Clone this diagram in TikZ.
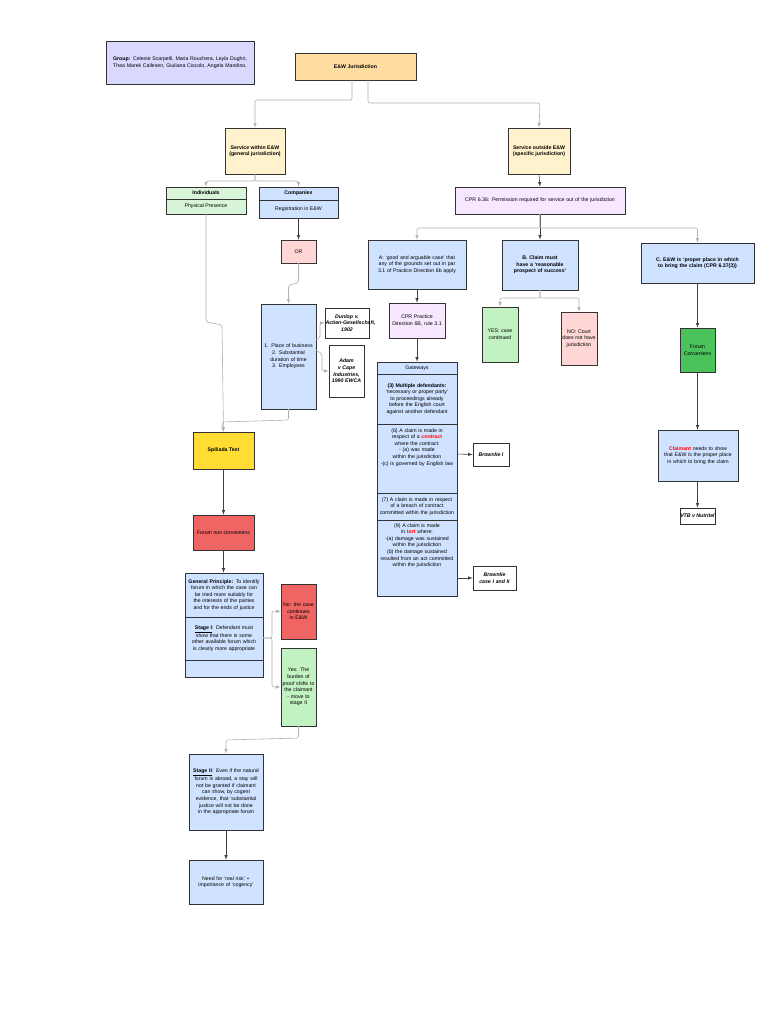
\documentclass[tikz,border=0pt]{standalone}
\usepackage{fontspec}
\setmainfont{Liberation Sans}
\hyphenpenalty=10000
\exhyphenpenalty=10000
\begin{document}
\begin{tikzpicture}[x=1pt,y=-1pt,
 bx/.style={draw=black!80,line width=0.7pt,align=center,inner sep=1pt,font=\fontsize{5.2}{6.6}\selectfont},
 gl/.style={draw=black!30,line width=0.6pt,rounded corners=2pt,-latex},
 dl/.style={draw=black!75,line width=0.6pt,-latex},
 ]
\definecolor{lav}{HTML}{D9D9FF}\definecolor{org}{HTML}{FFDCA0}\definecolor{cream}{HTML}{FFF2CC}
\definecolor{lgreen}{HTML}{D9F5D9}\definecolor{lblue}{HTML}{CFE2FF}\definecolor{pinkl}{HTML}{F8E8FF}
\definecolor{pinkr}{HTML}{FFD6D6}\definecolor{mgreen}{HTML}{C2F2C2}\definecolor{fgreen}{HTML}{4CC25A}
\definecolor{yel}{HTML}{FFDD33}\definecolor{redb}{HTML}{F06464}
\useasboundingbox (0,0) rectangle (768,1024);
\fill[white] (0,0) rectangle (768,1024);
\newcommand\bxat[6]{\node[bx,fill=#2,minimum width=#5-#3,minimum height=#6-#4] (#1) at ({(#3+#5)/2},{(#4+#6)/2}) {};}
% boxes
\bxat{grp}{lav}{106}{41}{254}{84}\node[bx,draw=none,text width=136] at (grp) {\textbf{Group:} Celeste Scarpelli, Maria Rouchera, Leyla Dughri, Thea Marek Callesen, Giuliana Ciscolo, Angela Mandino,};
\bxat{ew}{org}{295}{53}{416}{80}\node[bx,draw=none] at (ew) {\textbf{E\&W Jurisdiction}};
\bxat{win}{cream}{225}{128}{285}{174}\node[bx,draw=none] at (win) {\textbf{Service within E\&W}\\\textbf{(general jurisdiction)}};
\bxat{out}{cream}{508}{128}{570}{174}\node[bx,draw=none] at (out) {\textbf{Service outside E\&W}\\\textbf{(specific jurisdiction)}};
\bxat{ind}{lgreen}{166}{187}{246}{214}\draw[black!80,line width=0.7pt] (166,199)--(246,199);
\node[bx,draw=none] at (206,193) {\textbf{Individuals}};\node[bx,draw=none] at (206,206.5) {Physical Presence};
\bxat{com}{lblue}{259}{187}{338}{218}\draw[black!80,line width=0.7pt] (259,200)--(338,200);
\node[bx,draw=none] at (298.5,193.5) {\textbf{Companies}};\node[bx,draw=none] at (298.5,209) {Registration in E\&W};
\bxat{cpr}{pinkl}{455}{187}{625}{214}\node[bx,draw=none,text width=165] at (cpr) {CPR 6.36: Permission required for service out of the jurisdiction};
\bxat{or}{pinkr}{281}{240}{316}{263}\node[bx,draw=none] at (or) {OR};
\bxat{A}{lblue}{368}{240}{466}{289}\node[bx,draw=none,text width=92] at (A) {A: `good and arguable case' that any of the grounds set out in par 3.1 of Practice Direction 6b apply};
\bxat{B}{lblue}{502}{240}{578}{290}\node[bx,draw=none,text width=64] at (B) {\textbf{B. Claim must have a `reasonable prospect of success'}};
\bxat{C}{lblue}{641}{243}{754}{283}\node[bx,draw=none,text width=106] at (C) {\textbf{C. E\&W is `proper place in which to bring the claim (CPR 6.37(3))}};
\bxat{pl}{lblue}{261}{304}{316}{409}\node[bx,draw=none,text width=53] at (pl) {1. Place of business\\2. Substantial duration of time\\3. Employees};
\bxat{dun}{white}{325}{308}{369}{338}\node[bx,draw=none,text width=43] at (dun) {\textbf{\textit{Dunlop v. Actien-Gesellschaft, 1902}}};
\bxat{adam}{white}{329}{345}{364}{397}\node[bx,draw=none,text width=33] at (adam) {\textbf{\textit{Adam v Cape Industries, 1990 EWCA}}};
\bxat{pd}{pinkl}{389}{303}{445}{338}\node[bx,draw=none,text width=52] at (pd) {CPR Practice Direction 6B, rule 3.1};
\bxat{yes}{mgreen}{482}{307}{518}{362}\node[bx,draw=none,text width=34] at (yes) {YES: case continued};
\bxat{no}{pinkr}{561}{312}{597}{365}\node[bx,draw=none,text width=34] at (no) {NO: Court does not have jurisdiction};
\bxat{fc}{fgreen}{680}{328}{715}{372}\node[bx,draw=none] at (fc) {Forum\\Conveniens};
\bxat{gw}{lblue}{377}{362}{457}{596}
\foreach \yy in {374,424,493,520}{\draw[black!80,line width=0.7pt] (377,\yy)--(457,\yy);}
\node[bx,draw=none] at (417,368) {Gateways};
\node[bx,draw=none,text width=76] at (417,399) {\textbf{(3) Multiple defendants:} `necessary or proper party' to proceedings already before the English court against another defendant};
\node[bx,draw=none,text width=76,anchor=north] at (417,427) {(6) A claim is made in respect of a \textcolor{red}{\textbf{contract}} where the contract:\\- (a) was made within the jurisdiction\\-(c) is governed by English law};
\node[bx,draw=none,text width=76] at (417,506.5) {(7) A claim is made in respect of a breach of contract committed within the jurisdiction};
\node[bx,draw=none,text width=76,anchor=north] at (417,522) {(9) A claim is made in \textcolor{red}{\textbf{tort}} where:\\-(a) damage was sustained within the jurisdiction\\(b) the damage sustained resulted from an act committed within the jurisdiction};
\bxat{br1}{white}{473}{443}{509}{466}\node[bx,draw=none] at (br1) {\textbf{\textit{Brownlie I}}};
\bxat{br2}{white}{473}{566}{516}{590}\node[bx,draw=none,text width=42] at (br2) {\textbf{\textit{Brownlie case I and II}}};
\bxat{sp}{yel}{193}{432}{254}{469}\node[bx,draw=none] at (sp) {\textbf{Spiliada Test}};
\bxat{fnc}{redb}{193}{515}{254}{550}\node[bx,draw=none] at (fnc) {Forum non conveniens};
\bxat{gp}{lblue}{185}{573}{263}{677}\draw[black!80,line width=0.7pt] (185,617)--(263,617) (185,660)--(263,660);
\node[bx,draw=none,text width=76] at (224,595) {\textbf{General Principle:} To identify forum in which the case can be tried more suitably for the interests of the parties and for the ends of justice};
\node[bx,draw=none,text width=76] at (224,638.5) {\underline{\textbf{Stage I}}: Defendant must show that there is some other available forum which is clearly more appropriate};
\bxat{gno}{redb}{281}{584}{316}{639}\node[bx,draw=none,text width=34] at (gno) {No: the case continues in E\&W};
\bxat{gyes}{mgreen}{281}{648}{316}{726}\node[bx,draw=none,text width=34] at (gyes) {Yes: The burden of proof shifts to the claimant - move to stage II};
\bxat{cl}{lblue}{658}{430}{738}{481}\node[bx,draw=none,text width=76] at (cl) {\textcolor{red}{\textbf{Claimant}} needs to show that E\&W is the proper place in which to bring the claim};
\bxat{vtb}{white}{680}{508}{715}{524}\node[bx,draw=none] at (vtb) {\textbf{\textit{VTB v Nutritel}}};
\bxat{s2}{lblue}{189}{754}{263}{830}\node[bx,draw=none,text width=72] at (s2) {\underline{\textbf{Stage II}}: Even if the natural forum is abroad, a stay will not be granted if claimant can show, by cogent evidence, that `substantial justice will not be done in the appropriate forum};
\bxat{nd}{lblue}{189}{860}{263}{904}\node[bx,draw=none,text width=72] at (nd) {Need for `real risk' + importance of `cogency'};
% connectors
\draw[gl] (ew.south-|352,0) -- (352,100) -- (255,100) -- (win.north);
\draw[gl] (ew.south-|368,0) -- (368,103) -- (540,103) -- (out.north);
\draw[gl] (win.south) -- (255,181) -- (206,181) -- (ind.north);
\draw[gl] (win.south) -- (255,181) -- (298.5,181) -- (com.north);
\draw[dl] (com.south) -- (or.north);
\draw[gl] (298.5,263) -- (298.5,283) -- (288.5,285) -- (pl.north);
\draw[gl] (206,214) -- (206,322) -- (222,325) -- (sp.north);
\draw[gl] (288.5,409) -- (288.5,420) -- (222,422) -- (sp.north);
\draw[gl] (316,340) -- (320,338) -- (320,323) -- (dun.west);
\draw[gl] (316,350) -- (322,354) -- (322,371) -- (adam.west);
\draw[dl] (out.south) -- (cpr.north);
\draw[gl] (540,214) -- (540,228) -- (417,228) -- (A.north);
\draw[dl] (540,214) -- (B.north);
\draw[gl] (540,214) -- (540,228) -- (697.5,228) -- (C.north);
\draw[dl] (A.south-|417,0) -- (pd.north);
\draw[dl] (pd.south) -- (gw.north);
\draw[gl] (540,290) -- (540,298) -- (500,298) -- (yes.north);
\draw[gl] (540,290) -- (540,298) -- (579,298) -- (no.north);
\draw[dl] (C.south-|697.5,0) -- (fc.north);
\draw[dl] (fc.south) -- (cl.north-|697.5,0);
\draw[dl] (cl.south-|697.5,0) -- (vtb.north);
\draw[dl] (457,454) -- (br1.west);
\draw[dl] (457,578) -- (br2.west);
\draw[dl] (sp.south) -- (fnc.north);
\draw[dl] (fnc.south) -- (gp.north-|223.5,0);
\draw[gl] (263,638) -- (272,638) -- (272,611) -- (gno.west);
\draw[gl] (263,638) -- (272,638) -- (272,687) -- (gyes.west);
\draw[gl] (298.5,726) -- (298.5,738) -- (226,740) -- (s2.north);
\draw[dl] (s2.south) -- (nd.north);
\end{tikzpicture}
\end{document}
